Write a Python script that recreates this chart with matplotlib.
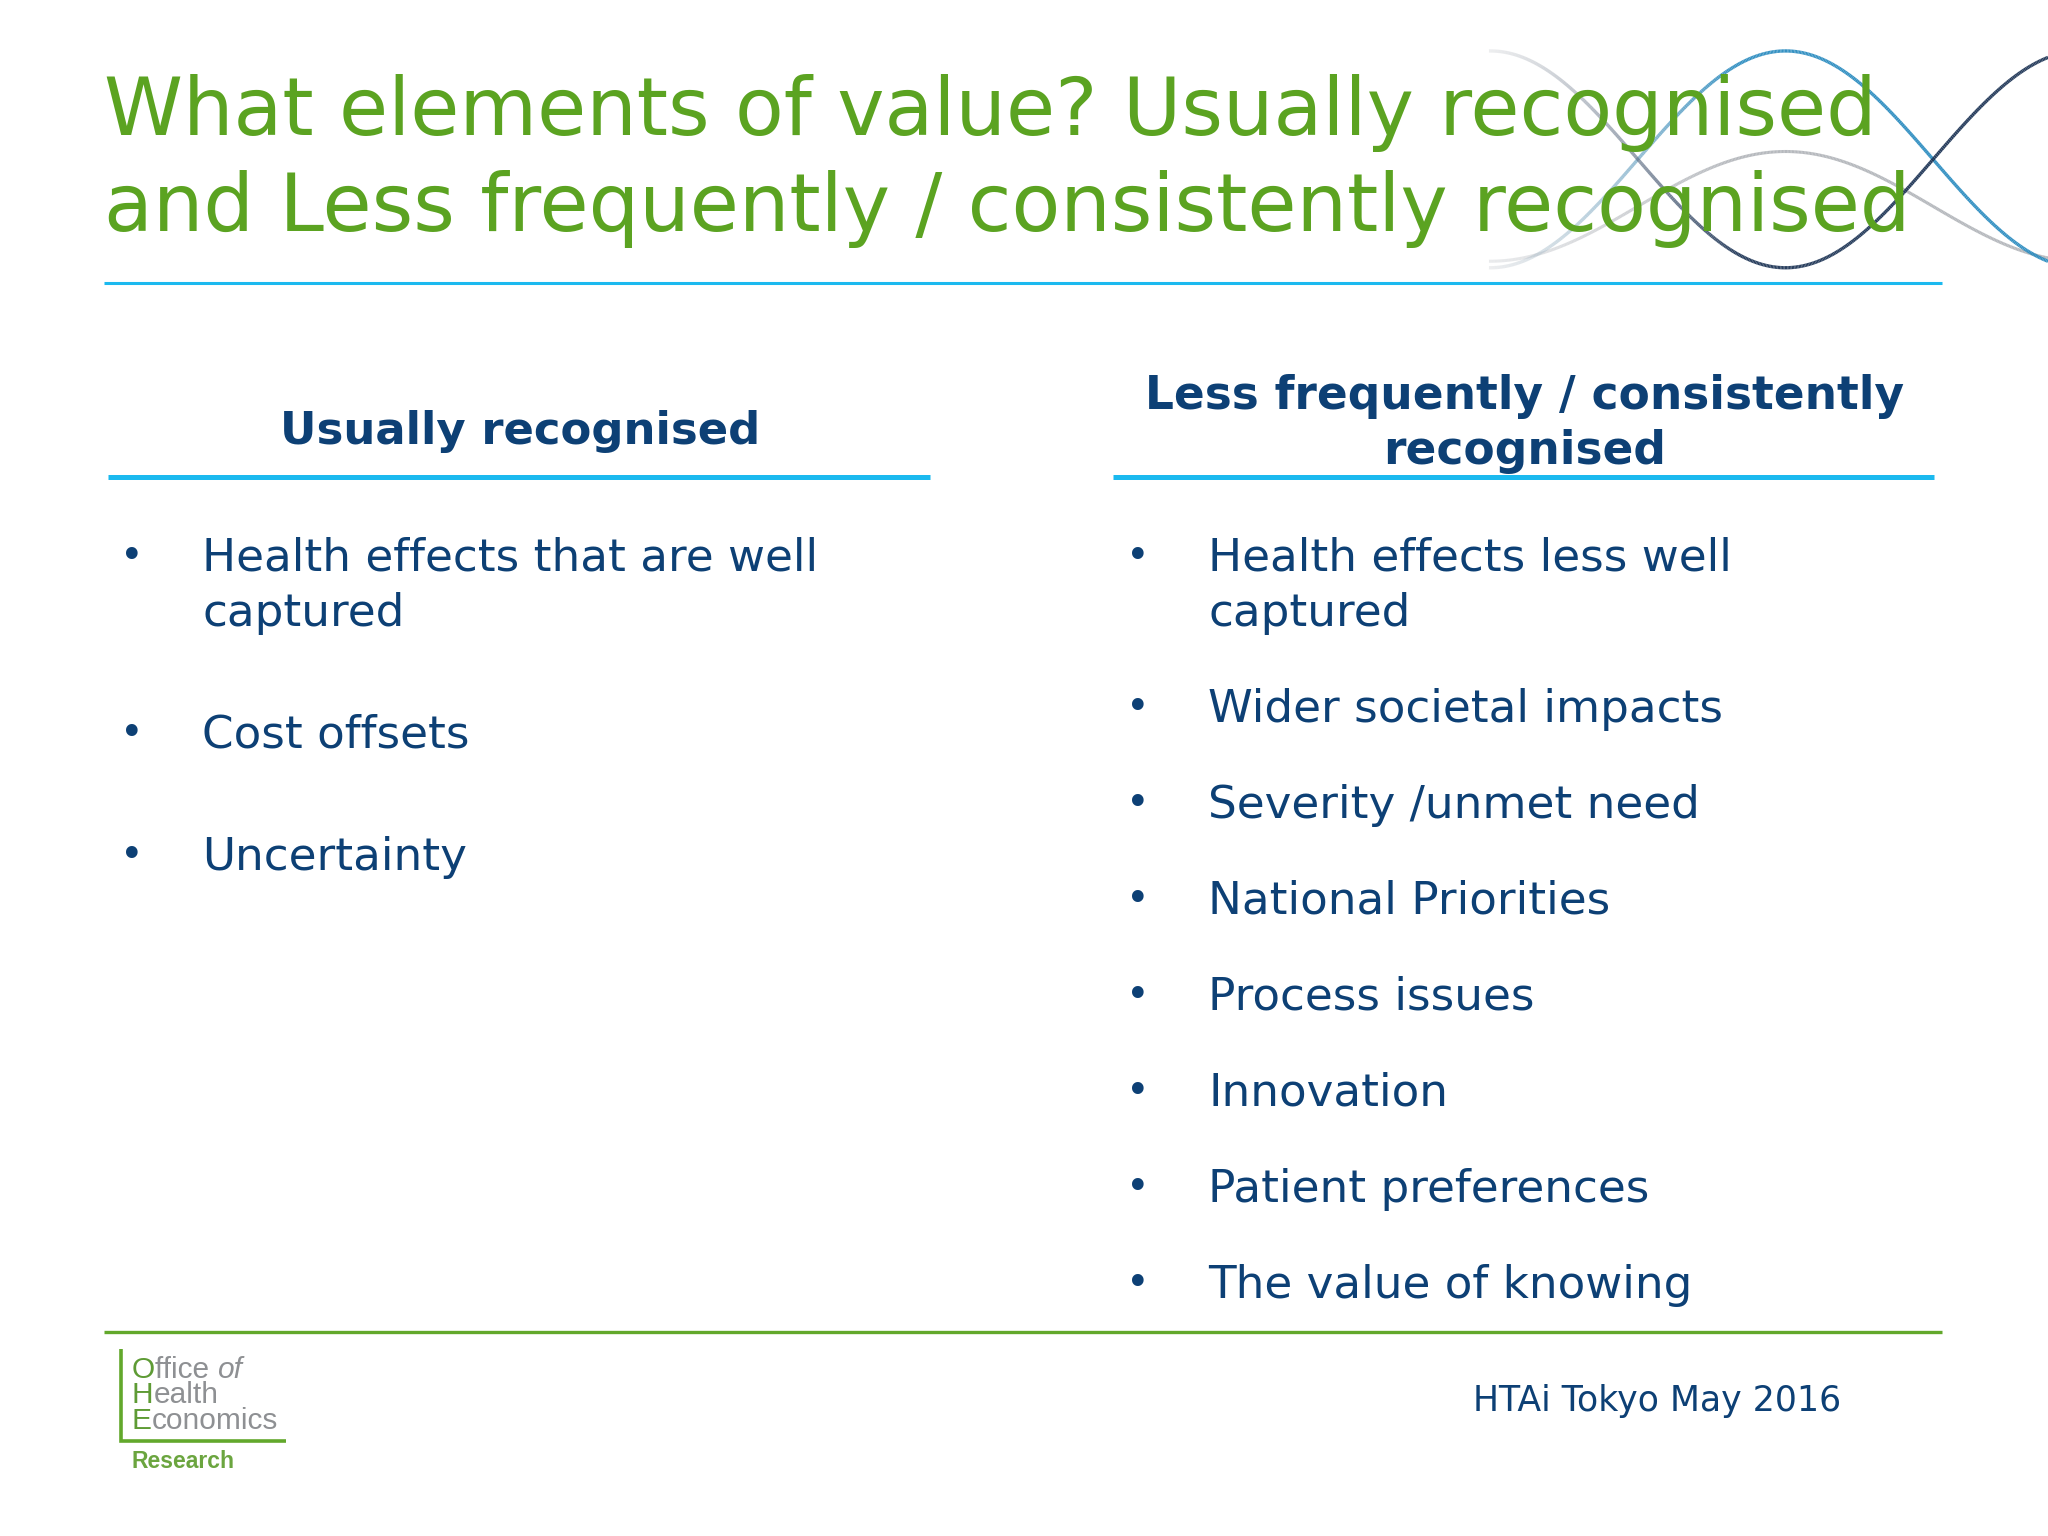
import numpy as np
import matplotlib
matplotlib.use("Agg")
import matplotlib.pyplot as plt
from matplotlib.collections import LineCollection
from matplotlib import colors as mcolors

# ---------------- content ----------------
title_lines = ["What elements of value? Usually recognised",
               "and Less frequently / consistently recognised"]
left_header = ["Usually recognised"]
right_header = ["Less frequently / consistently", "recognised"]
left_items = [["Health effects that are well", "captured"],
              ["Cost offsets"],
              ["Uncertainty"]]
right_items = [["Health effects less well", "captured"],
               ["Wider societal impacts"],
               ["Severity /unmet need"],
               ["National Priorities"],
               ["Process issues"],
               ["Innovation"],
               ["Patient preferences"],
               ["The value of knowing"]]
footer_text = "HTAi Tokyo May 2016"
logo_lines = [("O", "ffice ", "of"), ("H", "ealth", ""), ("E", "conomics", "")]
logo_sub = "Research"

# ---------------- style ----------------
GREEN = "#5BA321"
NAVY = "#0D4075"
CYAN = "#1BB9EF"
LINE_GREEN = "#62A82B"
GRAY_LOGO = "#8E9093"
FONT = ["DejaVu Sans Condensed", "DejaVu Sans"]

W, H = 1568, 1176  # layout units (reference display pixels)
fig = plt.figure(figsize=(20.48, 15.36), dpi=100)
ax = fig.add_axes([0, 0, 1, 1])
ax.set_xlim(0, W)
ax.set_ylim(H, 0)
ax.axis("off")

# ---------------- decorative waves (top right) ----------------
xs = np.linspace(1140, W, 400)
ph = 2 * np.pi * (xs - 1367) / 452.0
fade = np.clip((xs - 1140) / 190.0, 0, 1)


def wave(y, col, lw, alpha_min, alpha_max, z=1):
    pts = np.column_stack([xs, y]).reshape(-1, 1, 2)
    segs = np.concatenate([pts[:-1], pts[1:]], axis=1)
    base = np.array(mcolors.to_rgb(col))
    grey = np.array(mcolors.to_rgb("#B8BCC2"))
    f = fade[:-1]
    rgb = grey[None, :] * (1 - f[:, None]) + base[None, :] * f[:, None]
    a = alpha_min + (alpha_max - alpha_min) * f
    cols = np.column_stack([rgb, a])
    ax.add_collection(LineCollection(segs, colors=cols, linewidths=lw, zorder=z))


wave(158 - 42 * np.cos(ph), "#9EA2A8", 2.2, 0.3, 0.75)
wave(122 - 83 * np.cos(ph), "#2B8CC0", 2.4, 0.25, 0.95)
wave(122 + 83 * np.cos(ph), "#1E3556", 2.4, 0.25, 0.95)

# ---------------- title ----------------
for i, t in enumerate(title_lines):
    ax.text(80, 103 + i * 74, t, fontsize=57.5, color=GREEN, family=FONT,
            ha="left", va="baseline", zorder=5)
ax.plot([80, 1487], [217, 217], color=CYAN, lw=2.2, solid_capstyle="butt", zorder=4)

# ---------------- column headers ----------------
ax.text(398, 340, left_header[0], fontsize=32.4, fontweight="bold", color=NAVY,
        family=FONT, ha="center", va="baseline")
for i, t in enumerate(right_header):
    ax.text(1167, 313 + i * 42, t, fontsize=32.8, fontweight="bold", color=NAVY,
            family=FONT, ha="center", va="baseline")
ax.plot([83, 712], [365, 365], color=CYAN, lw=3.6, solid_capstyle="butt")
ax.plot([852, 1481], [365, 365], color=CYAN, lw=3.6, solid_capstyle="butt")


# ---------------- bullet lists ----------------
def bullets(items, x_bullet, x_text, y0, line_gap, item_gap):
    y = y0
    for item in items:
        ax.text(x_bullet, y - 2, "\u2022", fontsize=29, color=NAVY, family=FONT,
                ha="center", va="baseline")
        for j, line in enumerate(item):
            ax.text(x_text, y + j * line_gap, line, fontsize=32.6, color=NAVY,
                    family=FONT, ha="left", va="baseline")
        y += (len(item) - 1) * line_gap + item_gap


bullets(left_items, 101, 155, 437, 42, 93.5)
bullets(right_items, 871, 925, 437, 42, 73.5)

# ---------------- footer ----------------
ax.plot([80, 1487], [1020, 1020], color=LINE_GREEN, lw=2.4, solid_capstyle="butt")
ax.text(1128, 1080, footer_text, fontsize=25, color=NAVY, family=FONT,
        ha="left", va="baseline")

# logo
ax.plot([93, 93, 219], [1033, 1103, 1103], color=LINE_GREEN, lw=2.6,
        solid_capstyle="butt", solid_joinstyle="miter")
fig.canvas.draw()
r = fig.canvas.get_renderer()
inv = ax.transData.inverted()
for i, (ini, rest, ital) in enumerate(logo_lines):
    yb = 1055 + i * 19.5
    t1 = ax.text(101, yb, ini, fontsize=21.5, color="#5E9B35",
                 family="Liberation Sans", ha="left", va="baseline")
    bb = t1.get_window_extent(r)
    x2 = inv.transform((bb.x1, bb.y0))[0]
    t2 = ax.text(x2, yb, rest, fontsize=21.5, color=GRAY_LOGO,
                 family="Liberation Sans", ha="left", va="baseline")
    if ital:
        bb2 = t2.get_window_extent(r)
        x3 = inv.transform((bb2.x1, bb2.y0))[0]
        ax.text(x3, yb, ital, fontsize=21.5, color=GRAY_LOGO, style="italic",
                family="Liberation Sans", ha="left", va="baseline")
ax.text(101, 1124, logo_sub, fontsize=16.5, color="#6BA53F", fontweight="bold",
        family="Liberation Sans", ha="left", va="baseline")

fig.savefig("out.png", dpi=100, facecolor="white")
